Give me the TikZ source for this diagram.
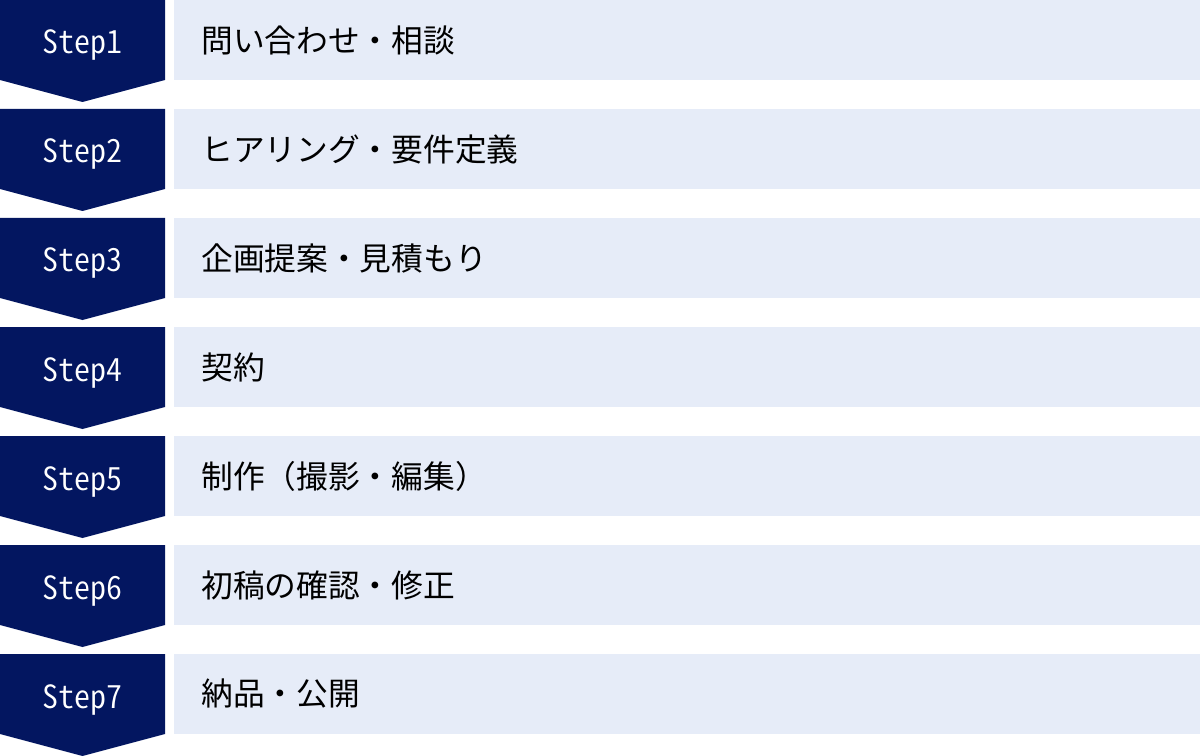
\documentclass[tikz,border=0pt]{standalone}
\usepackage{fontspec}
\setmainfont{Noto Sans CJK JP}
\newfontfamily\jpfont{Noto Sans CJK JP}
\newfontfamily\stepfont[RawFeature=+hwid]{Noto Sans CJK JP DemiLight}
\definecolor{navy}{RGB}{3, 22, 96}
\definecolor{pale}{RGB}{230, 236, 248}

\begin{document}
\begin{tikzpicture}[x=0.75pt, y=-0.75pt,
	steptext/.style={text=white, font=\stepfont\fontsize{24}{26}\selectfont, anchor=base, inner sep=0pt},
	tasktext/.style={text=black, font=\jpfont\fontsize{23.8}{26}\selectfont, anchor=west, inner sep=0pt}]

	\useasboundingbox (0,0) rectangle (1200,756);

	\foreach \i/\task in {1/問い合わせ・相談, 2/ヒアリング・要件定義, 3/企画提案・見積もり, 4/契約, 5/制作（撮影・編集）, 6/初稿の確認・修正, 7/納品・公開}{
		\pgfmathsetmacro{\top}{(\i-1)*109}
		% chevron and bar
		\fill[navy] (0,\top) -- ++(165,0) -- ++(0,80) -- ++(-82.5,22) -- ++(-82.5,-22) -- cycle;
		\fill[pale] (174,\top) rectangle ++(1026,80);
		\node[steptext] (step\i) at (82.5,\top+54) {Step\i};
		\node[tasktext] (task\i) at (201,\top+40) {\task};
	}

\end{tikzpicture}
\end{document}
